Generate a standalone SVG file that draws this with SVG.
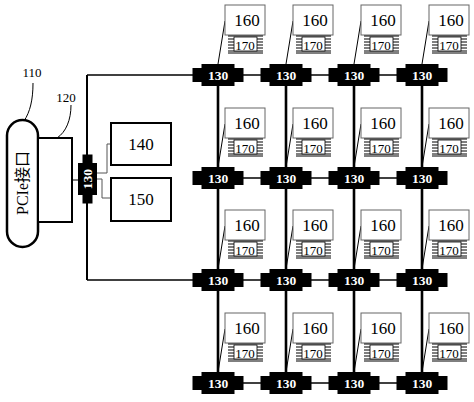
<svg xmlns="http://www.w3.org/2000/svg" xmlns:xlink="http://www.w3.org/1999/xlink" width="474" height="402" viewBox="0 0 474 402">
<style>
.t{font-family:"Liberation Serif","Noto Sans CJK SC",serif;fill:#000;text-anchor:middle}
.n160{font-size:17px}
.n170{font-size:13px}
.n130{font-size:13.5px;font-weight:bold;fill:#fff}
.bx{fill:#fff;stroke:#000;stroke-width:2}
.mb{fill:#fff;stroke:#666;stroke-width:1}
.thin{fill:none;stroke:#000;stroke-width:1}
.el{fill:none;stroke:#555;stroke-width:1}
.h{fill:none;stroke:#000;stroke-width:1.6}
.v{fill:none;stroke:#000;stroke-width:2.6}
.m{fill:none;stroke:#000;stroke-width:2}
</style>
<defs>
<path id="sw" d="M-25.5,-7 H-16.5 V-11 H16.5 V-7 H25.5 V7 H16.5 V11 H-16.5 V7 H-25.5 Z" fill="#000"/>
<path id="swv" d="M-5,-24.5 H5 V-16 H9.5 V16 H5 V24.5 H-5 V16 H-9.5 V-16 H-5 Z" fill="#000"/>
<g id="mem">
<line class="thin" x1="7" y1="-54" x2="0" y2="-11"/>
<rect class="mb" x="7" y="-70" width="40" height="30"/>
<path class="thin" d="M10,-39 H45 M10,-36 H45 M10,-33 H45 M10,-30 H45 M10,-27 H45 M10,-24 H45 M10,-22 H45"/>
<rect x="16" y="-38" width="23" height="14" fill="#fff" stroke="#000" stroke-width="0.8"/>
</g>
</defs>

<g id="connectors">
<line class="m" x1="87" y1="75" x2="87" y2="280"/>
<line class="h" x1="87" y1="75" x2="422" y2="75"/>
<line class="h" x1="218" y1="178" x2="422" y2="178"/>
<line class="h" x1="87" y1="280" x2="422" y2="280"/>
<line class="h" x1="218" y1="383" x2="422" y2="383"/>
<line class="v" x1="218" y1="75" x2="218" y2="383"/>
<line class="v" x1="286" y1="75" x2="286" y2="383"/>
<line class="v" x1="354" y1="75" x2="354" y2="383"/>
<line class="v" x1="422" y1="75" x2="422" y2="383"/>
<line class="thin" x1="72" y1="180" x2="78" y2="180"/>
<polyline class="el" points="97,173 107,173 107,144 111,144"/>
<polyline class="el" points="97,179 102,179 102,198 111,198"/>
<path class="thin" d="M33,83 C33,100 30,112 24,121"/>
<path class="thin" d="M71,105 C71,120 66,132 57,138"/>
</g>

<g id="n110"><text class="t" x="32" y="77" font-size="13">110</text></g>
<g id="n120"><text class="t" x="66" y="102" font-size="13">120</text></g>
<g id="pcie">
<rect x="7" y="120" width="31" height="127" rx="15.5" fill="#fff" stroke="#000" stroke-width="2.5"/>
<text class="t" font-size="16" transform="translate(28,183) rotate(-90)">PCIe接口</text>
</g>
<g id="box120"><rect class="bx" x="38" y="138" width="34" height="84"/></g>
<g id="sw-main">
<use xlink:href="#swv" x="87.5" y="179"/>
<text class="t n130" transform="translate(92,179) rotate(-90)">130</text>
</g>
<g id="n140"><rect class="bx" x="111" y="123" width="60" height="42"/><text class="t" x="141" y="150" font-size="17">140</text></g>
<g id="n150"><rect class="bx" x="111" y="178" width="60" height="43"/><text class="t" x="141" y="205" font-size="17">150</text></g>

<g id="c11"><use xlink:href="#mem" x="218" y="75"/><text class="t n160" x="247" y="26">160</text><text class="t n170" x="245" y="50">170</text><use xlink:href="#sw" x="218" y="75"/><text class="t n130" x="218" y="80">130</text></g>
<g id="c12"><use xlink:href="#mem" x="286" y="75"/><text class="t n160" x="315" y="26">160</text><text class="t n170" x="313" y="50">170</text><use xlink:href="#sw" x="286" y="75"/><text class="t n130" x="286" y="80">130</text></g>
<g id="c13"><use xlink:href="#mem" x="354" y="75"/><text class="t n160" x="383" y="26">160</text><text class="t n170" x="381" y="50">170</text><use xlink:href="#sw" x="354" y="75"/><text class="t n130" x="354" y="80">130</text></g>
<g id="c14"><use xlink:href="#mem" x="422" y="75"/><text class="t n160" x="451" y="26">160</text><text class="t n170" x="449" y="50">170</text><use xlink:href="#sw" x="422" y="75"/><text class="t n130" x="422" y="80">130</text></g>

<g id="c21"><use xlink:href="#mem" x="218" y="178"/><text class="t n160" x="247" y="129">160</text><text class="t n170" x="245" y="153">170</text><use xlink:href="#sw" x="218" y="178"/><text class="t n130" x="218" y="183">130</text></g>
<g id="c22"><use xlink:href="#mem" x="286" y="178"/><text class="t n160" x="315" y="129">160</text><text class="t n170" x="313" y="153">170</text><use xlink:href="#sw" x="286" y="178"/><text class="t n130" x="286" y="183">130</text></g>
<g id="c23"><use xlink:href="#mem" x="354" y="178"/><text class="t n160" x="383" y="129">160</text><text class="t n170" x="381" y="153">170</text><use xlink:href="#sw" x="354" y="178"/><text class="t n130" x="354" y="183">130</text></g>
<g id="c24"><use xlink:href="#mem" x="422" y="178"/><text class="t n160" x="451" y="129">160</text><text class="t n170" x="449" y="153">170</text><use xlink:href="#sw" x="422" y="178"/><text class="t n130" x="422" y="183">130</text></g>

<g id="c31"><use xlink:href="#mem" x="218" y="280"/><text class="t n160" x="247" y="231">160</text><text class="t n170" x="245" y="255">170</text><use xlink:href="#sw" x="218" y="280"/><text class="t n130" x="218" y="285">130</text></g>
<g id="c32"><use xlink:href="#mem" x="286" y="280"/><text class="t n160" x="315" y="231">160</text><text class="t n170" x="313" y="255">170</text><use xlink:href="#sw" x="286" y="280"/><text class="t n130" x="286" y="285">130</text></g>
<g id="c33"><use xlink:href="#mem" x="354" y="280"/><text class="t n160" x="383" y="231">160</text><text class="t n170" x="381" y="255">170</text><use xlink:href="#sw" x="354" y="280"/><text class="t n130" x="354" y="285">130</text></g>
<g id="c34"><use xlink:href="#mem" x="422" y="280"/><text class="t n160" x="451" y="231">160</text><text class="t n170" x="449" y="255">170</text><use xlink:href="#sw" x="422" y="280"/><text class="t n130" x="422" y="285">130</text></g>

<g id="c41"><use xlink:href="#mem" x="218" y="383"/><text class="t n160" x="247" y="334">160</text><text class="t n170" x="245" y="358">170</text><use xlink:href="#sw" x="218" y="383"/><text class="t n130" x="218" y="388">130</text></g>
<g id="c42"><use xlink:href="#mem" x="286" y="383"/><text class="t n160" x="315" y="334">160</text><text class="t n170" x="313" y="358">170</text><use xlink:href="#sw" x="286" y="383"/><text class="t n130" x="286" y="388">130</text></g>
<g id="c43"><use xlink:href="#mem" x="354" y="383"/><text class="t n160" x="383" y="334">160</text><text class="t n170" x="381" y="358">170</text><use xlink:href="#sw" x="354" y="383"/><text class="t n130" x="354" y="388">130</text></g>
<g id="c44"><use xlink:href="#mem" x="422" y="383"/><text class="t n160" x="451" y="334">160</text><text class="t n170" x="449" y="358">170</text><use xlink:href="#sw" x="422" y="383"/><text class="t n130" x="422" y="388">130</text></g>
</svg>
